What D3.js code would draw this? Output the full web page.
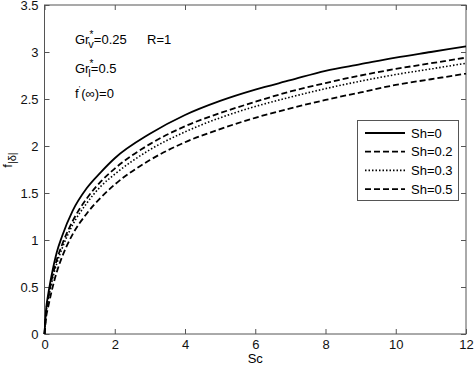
<!DOCTYPE html>
<html><head><meta charset="utf-8">
<script src="https://cdn.jsdelivr.net/npm/d3@7"></script>
<style>body{margin:0;background:#fff}text{font-family:"Liberation Sans",Arial,sans-serif}</style>
</head><body><svg id="c" width="474" height="366"></svg>
<script>
const sc = [0, 0.05, 0.1, 0.2, 0.35, 0.5, 0.8, 1.2, 1.6, 2, 3, 4, 5, 6, 7, 8, 9, 10, 11, 12];
const sh0  = [0, 0.28, 0.41, 0.62, 0.87, 1.04, 1.31, 1.55, 1.72, 1.87, 2.13, 2.33, 2.48, 2.60, 2.70, 2.80, 2.87, 2.94, 3.00, 3.06];
const sh02 = [0, 0.25, 0.37, 0.57, 0.79, 0.95, 1.20, 1.44, 1.62, 1.76, 2.02, 2.21, 2.35, 2.47, 2.58, 2.67, 2.75, 2.82, 2.88, 2.94];
const sh03 = [0, 0.23, 0.35, 0.54, 0.75, 0.91, 1.16, 1.39, 1.57, 1.70, 1.96, 2.15, 2.30, 2.42, 2.52, 2.61, 2.69, 2.76, 2.82, 2.88];
const sh05 = [0, 0.19, 0.28, 0.45, 0.66, 0.82, 1.06, 1.28, 1.45, 1.59, 1.85, 2.04, 2.18, 2.30, 2.40, 2.49, 2.57, 2.65, 2.71, 2.77];
const seriesNames = ["Sh=0", "Sh=0.2", "Sh=0.3", "Sh=0.5"];
const xTicks = [0, 2, 4, 6, 8, 10, 12];
const yTicks = [0, 0.5, 1, 1.5, 2, 2.5, 3, 3.5];

const series = [
  {name: seriesNames[0], vals: sh0, dash: null},
  {name: seriesNames[1], vals: sh02, dash: "6,3"},
  {name: seriesNames[2], vals: sh03, dash: "1.5,2"},
  {name: seriesNames[3], vals: sh05, dash: "6,3"}
];

const svg = d3.select("#c");
const L = 44.5, R = 466, T = 5, B = 334;
const x = d3.scaleLinear().domain([0, 12]).range([L, R]);
const y = d3.scaleLinear().domain([0, 3.5]).range([B, T]);
const axisColor = "#555";

const g = svg.append("g");
g.append("rect").attr("x", L).attr("y", T).attr("width", R - L).attr("height", B - T)
  .attr("fill", "none").attr("stroke", axisColor).attr("stroke-width", 1);

function styleAxis(a) {
  a.select(".domain").remove();
  a.selectAll("line").attr("stroke", axisColor);
  a.selectAll("text").attr("fill", "#111").style("font-size", "13px").style("font-family", "Liberation Sans, Arial, sans-serif");
}
const xb = g.append("g").attr("transform", `translate(0,${B})`)
  .call(d3.axisBottom(x).tickValues(xTicks).tickSize(-5).tickPadding(6).tickFormat(d3.format("d")));
styleAxis(xb);
const xt = g.append("g").attr("transform", `translate(0,${T})`)
  .call(d3.axisTop(x).tickValues(xTicks).tickSize(-5).tickFormat(""));
styleAxis(xt);
const yl = g.append("g").attr("transform", `translate(${L},0)`)
  .call(d3.axisLeft(y).tickValues(yTicks).tickSize(-5).tickPadding(6).tickFormat(d => d));
styleAxis(yl);
const yr = g.append("g").attr("transform", `translate(${R},0)`)
  .call(d3.axisRight(y).tickValues(yTicks).tickSize(-5).tickFormat(""));
styleAxis(yr);

const line = d3.line().x((d, i) => x(sc[i])).y(d => y(d)).curve(d3.curveMonotoneX);
series.forEach(s => {
  g.append("path").attr("d", line(s.vals)).attr("fill", "none")
    .attr("stroke", "#000").attr("stroke-width", s.dash === "1.5,2" ? 1.6 : 1.8)
    .attr("stroke-dasharray", s.dash);
});

svg.append("text").attr("x", (L + R) / 2).attr("y", 363).attr("text-anchor", "middle")
  .style("font-size", "13px").text("Sc");
const ylab = svg.append("text").attr("transform", "translate(12,160) rotate(-90)")
  .attr("text-anchor", "middle").style("font-size", "13px");
ylab.append("tspan").text("f");
ylab.append("tspan").attr("dy", 4).style("font-size", "11px").text("|δ|");

function gr(xp, yp, sub, val) {
  const t = svg.append("text").attr("x", xp).attr("y", yp).style("font-size", "13px");
  t.append("tspan").text("Gr");
  t.append("tspan").attr("dy", -6).style("font-size", "10px").text("*");
  t.append("tspan").attr("dx", -5).attr("dy", 10).style("font-size", "11px").text(sub);
  t.append("tspan").attr("dy", -4).text(val);
  return t;
}
gr(75, 44, "v", "=0.25");
svg.append("text").attr("x", 147).attr("y", 44).style("font-size", "13px").text("R=1");
gr(75, 73, "l", "=0.5");
const f = svg.append("text").attr("x", 75).attr("y", 98).style("font-size", "13px");
f.append("tspan").text("f");
f.append("tspan").attr("dy", -7).style("font-size", "8px").text("'");
f.append("tspan").attr("dx", 1).attr("dy", 7).text("(∞)=0");

const lg = svg.append("g");
lg.append("rect").attr("x", 357.5).attr("y", 120.5).attr("width", 101).attr("height", 80)
  .attr("fill", "#fff").attr("stroke", axisColor);
series.forEach((s, i) => {
  const yy = 133 + i * 18.7;
  lg.append("line").attr("x1", 365).attr("x2", 405).attr("y1", yy).attr("y2", yy)
    .attr("stroke", "#000").attr("stroke-width", s.dash === "1.5,2" ? 1.6 : 1.8)
    .attr("stroke-dasharray", s.dash);
  lg.append("text").attr("x", 411).attr("y", yy + 4.5).style("font-size", "13px").text(s.name);
});
</script></body></html>
